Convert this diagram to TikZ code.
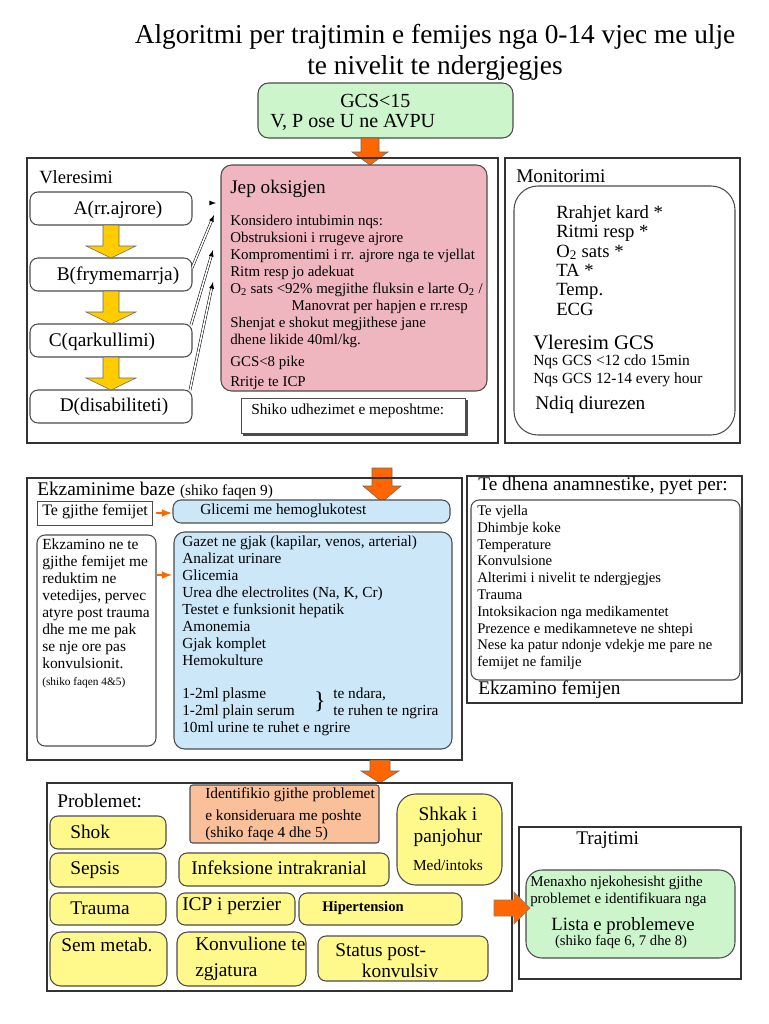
\documentclass[tikz,border=0pt]{standalone}
\usepackage{fontspec}
\setmainfont{Liberation Serif}
\begin{document}
\begin{tikzpicture}[x=0.75pt,y=-0.75pt,
 frame/.style={draw=black!80,line width=0.8pt},
 rbox/.style={draw=black!70,line width=0.8pt,rounded corners=6pt},
 ybox/.style={rbox,fill=yellow!45},
 txt/.style={anchor=west,inner sep=0pt,align=left},
 f9/.style={font=\fontsize{11.2}{12.75}\selectfont},
 f11/.style={font=\fontsize{14.5}{16}\selectfont}]
\useasboundingbox (0,0) rectangle (768,1024);
\definecolor{org}{HTML}{FF6600}
\definecolor{yel}{HTML}{FFCC00}
\definecolor{pink}{HTML}{F0B6C0}
\definecolor{lblue}{HTML}{CCE8F8}
\definecolor{lgreen}{HTML}{CCF5CC}
\definecolor{peach}{HTML}{F9C09A}
\newcommand{\myDarr}[7]{\filldraw[fill=#7,draw=black!60] (#1-#4,#2) -- (#1+#4,#2) -- (#1+#4,#3-#6) -- (#1+#5,#3-#6) -- (#1,#3) -- (#1-#5,#3-#6) -- (#1-#4,#3-#6) -- cycle;}
% title
\node[font=\fontsize{20.5}{24}\selectfont] (t1) at (435,37) {Algoritmi per trajtimin e femijes nga 0-14 vjec me ulje};
\node[font=\fontsize{20.5}{24}\selectfont] (t2) at (435,68) {te nivelit te ndergjegjes};
% GCS
\draw[rbox,fill=lgreen,rounded corners=8pt] (258,83) rectangle (513,138);
\node[txt,font=\fontsize{15}{17}\selectfont] (g1) at (340,101) {GCS<15};
\node[txt,font=\fontsize{15}{17}\selectfont] (g2) at (270,122) {V, P ose U ne AVPU};
\myDarr{370}{138}{165}{9}{18}{13}{org}
% Vleresimi
\draw[frame] (27,158) rectangle (498,443);
\node[txt,font=\fontsize{14}{16}\selectfont] (vl) at (39,177) {Vleresimi};
\draw[rbox] (30,192) rectangle (192,225); \node[f11] (A) at (118,210) {A(rr.ajrore)};
\draw[rbox] (30,258) rectangle (192,291); \node[f11] (B) at (118,276) {B(frymemarrja)};
\draw[rbox] (30,324) rectangle (192,357); \node[f11] (C) at (102,342) {C(qarkullimi)};
\draw[rbox] (30,390) rectangle (192,423); \node[f11] (D) at (114,407) {D(disabiliteti)};
\myDarr{111}{225}{258}{8}{25}{12}{yel}
\myDarr{111}{291}{324}{8}{25}{12}{yel}
\myDarr{111}{357}{390}{8}{25}{12}{yel}
\draw[rbox,fill=pink,rounded corners=8pt] (221,165) rectangle (487,391);
\node[txt,font=\fontsize{14.4}{16}\selectfont] (jep) at (230,189) {Jep oksigjen};
\node[txt,f9,anchor=north west] (kons) at (230,215) {Konsidero intubimin nqs:\\Obstruksioni i rrugeve ajrore\\Kompromentimi i rr. ajrore nga te vjellat\\Ritm resp jo adekuat\\O\textsubscript{2} sats <92\% megjithe fluksin e larte O\textsubscript{2} /\\\hspace*{46pt}Manovrat per hapjen e rr.resp\\Shenjat e shokut megjithese jane\\dhene likide 40ml/kg.};
\node[txt,f9] (gcs8) at (230,363) {GCS<8 pike};
\node[txt,f9] (icp) at (230,383) {Rritje te ICP};
\draw[black!70,line width=1.5pt] (244,401) rectangle (467,435);
\draw[fill=white,draw=black!70] (241,398) rectangle (465,433);
\node[txt,font=\fontsize{11.5}{13}\selectfont] (shiko) at (251,411) {Shiko udhezimet e meposhtme:};
\coordinate (sA) at (196,203); \coordinate (sB) at (192,268);
\coordinate (sC) at (191,325); \coordinate (sD) at (190,390);
\coordinate (pA) at (216,203); \coordinate (pB) at (214,215);
\coordinate (pC) at (213,250); \coordinate (pD) at (213,282);
\foreach \s/\t in {sA/pA,sB/pB,sC/pC,sD/pD}{\draw[double,double distance=1.2pt,-latex] (\s) -- (\t);}
% Monitorimi
\draw[frame] (505,158) rectangle (740,443);
\node[txt,f11] (mon) at (516,176) {Monitorimi};
\draw[rbox,rounded corners=18pt] (514,186) rectangle (735,435);
\node[txt,font=\fontsize{14}{14.55}\selectfont,anchor=north west] (mlist) at (556,205) {Rrahjet kard *\\Ritmi resp *\\O\textsubscript{2} sats *\\TA *\\Temp.\\ECG};
\node[txt,font=\fontsize{15.5}{17}\selectfont] (vg) at (533,342) {Vleresim GCS};
\node[txt,font=\fontsize{11.6}{13.5}\selectfont,anchor=north west] (nqs) at (533,354) {Nqs GCS <12 cdo 15min\\Nqs GCS 12-14 every hour};
\node[txt,f11] (ndiq) at (535,405) {Ndiq diurezen};
% Ekzaminime
\myDarr{382}{468}{502}{10}{19}{16}{org}
\draw[frame] (27,478) rectangle (462,760);
\node[txt] (ekz) at (37,490) {\fontsize{14.5}{16}\selectfont Ekzaminime baze \fontsize{11.5}{13}\selectfont(shiko faqen 9)};
\draw[draw=black!70] (37,501) rectangle (152,525);
\node[txt,font=\fontsize{12}{13}\selectfont] (tgf) at (42,512) {Te gjithe femijet};
\draw[rbox,fill=lblue] (173,500) rectangle (450,523);
\node[txt,font=\fontsize{11.5}{13}\selectfont] (glic) at (200,511) {Glicemi me hemoglukotest};
\draw[rbox] (37,535) rectangle (156,746);
\node[txt,font=\fontsize{11.6}{12.75}\selectfont,anchor=north west] (ekzt) at (42,538) {Ekzamino ne te\\gjithe femijet me\\reduktim ne\\vetedijes, pervec\\atyre post trauma\\dhe me me pak\\se nje ore pas\\konvulsionit.\\{\fontsize{8.5}{9}\selectfont (shiko faqen 4\&5)}};
\draw[rbox,fill=lblue,rounded corners=8pt] (174,532) rectangle (452,749);
\node[txt,font=\fontsize{11.5}{12.75}\selectfont,anchor=north west] (gaz) at (182,536) {Gazet ne gjak (kapilar, venos, arterial)\\Analizat urinare\\Glicemia\\Urea dhe electrolites (Na, K, Cr)\\Testet e funksionit hepatik\\Amonemia\\Gjak komplet\\Hemokulture};
\node[txt,font=\fontsize{11.5}{12.75}\selectfont,anchor=north west] (ml) at (182,688) {1-2ml plasme\\1-2ml plain serum\\10ml urine te ruhet e ngrire};
\node[font=\fontsize{18}{18}\selectfont,inner sep=0pt] (br) at (320,702) {\}};
\node[txt,font=\fontsize{11.5}{12.75}\selectfont,anchor=north west] (ndara) at (333,688) {te ndara,\\te ruhen te ngrira};
\draw[org,line width=1.6pt,->,>=latex] (156,513) -- (172,513);
\draw[org,line width=1.6pt,->,>=latex] (157,575) -- (172,575);
% Te dhena
\draw[frame] (467,476) rectangle (742,703);
\node[txt,f11] (tdh) at (478,486) {Te dhena anamnestike, pyet per:};
\draw[rbox] (471,500) rectangle (740,680);
\node[txt,font=\fontsize{11}{12.6}\selectfont,anchor=north west] (tdl) at (477,505) {Te vjella\\Dhimbje koke\\Temperature\\Konvulsione\\Alterimi i nivelit te ndergjegjes\\Trauma\\Intoksikacion nga medikamentet\\Prezence e medikamneteve ne shtepi\\Nese ka patur ndonje vdekje me pare ne\\femijet ne familje};
\node[txt,f11] (ekf) at (478,690) {Ekzamino femijen};
% Problemet
\myDarr{380}{760}{783}{10}{19}{12}{org}
\draw[frame] (47,783) rectangle (512,991);
\node[txt,f11] (prob) at (57,801) {Problemet:};
\draw[rbox,fill=peach,rounded corners=2pt] (190,785) rectangle (379,843);
\node[txt,font=\fontsize{11.5}{12.75}\selectfont,anchor=north west] (iden) at (205,787) {Identifikio gjithe problemet\\[4pt]e konsideruara me poshte\\(shiko faqe 4 dhe 5)};
\draw[ybox] (50,816) rectangle (166,849); \node[txt,f11] (shok) at (70,832) {Shok};
\draw[ybox] (50,853) rectangle (166,887); \node[txt,f11] (seps) at (70,870) {Sepsis};
\draw[ybox] (179,853) rectangle (389,886); \node[txt,f11] (inf) at (191,868) {Infeksione intrakranial};
\draw[ybox,rounded corners=14pt] (397,794) rectangle (502,885);
\node[f11,align=center] (shk) at (448,827) {Shkak i\\panjohur};
\node[font=\fontsize{11.5}{13}\selectfont] (med) at (448,865) {Med/intoks};
\draw[ybox] (50,893) rectangle (166,925); \node[txt,f11] (tr) at (70,908) {Trauma};
\draw[ybox] (177,893) rectangle (295,925); \node[txt,f11] (icpp) at (182,906) {ICP i perzier};
\draw[ybox] (299,893) rectangle (462,925); \node[txt,font=\fontsize{11}{12}\selectfont\bfseries] (hip) at (322,908) {Hipertension};
\draw[ybox,rounded corners=8pt] (50,932) rectangle (167,986); \node[txt,f11] (sem) at (61,945) {Sem metab.};
\draw[ybox,rounded corners=8pt] (177,932) rectangle (306,986);
\node[txt,f11,anchor=north west] (konv) at (195,937) {Konvulione te\\[3pt]zgjatura};
\draw[ybox] (318,936) rectangle (488,981);
\node[txt,f11,anchor=north west] (stat) at (335,943) {Status post-\\\hspace*{20pt}konvulsiv};
% Trajtimi
\draw[frame] (519,827) rectangle (741,979);
\node[txt,f11] (trj) at (576,840) {Trajtimi};
\draw[rbox,fill=lgreen,rounded corners=12pt] (526,870) rectangle (735,958);
\node[txt,font=\fontsize{11.2}{13}\selectfont,anchor=north west] (men) at (530,876) {Menaxho njekohesisht gjithe\\problemet e identifikuara nga};
\node[font=\fontsize{14}{15}\selectfont] (lista) at (623,926) {Lista e problemeve};
\node[font=\fontsize{11}{12}\selectfont] (shf) at (621,942) {(shiko faqe 6, 7 dhe 8)};
\filldraw[fill=org,draw=black!50] (494,900) -- (514,900) -- (514,892) -- (530,908) -- (514,924) -- (514,916) -- (494,916) -- cycle;
\end{tikzpicture}
\end{document}
